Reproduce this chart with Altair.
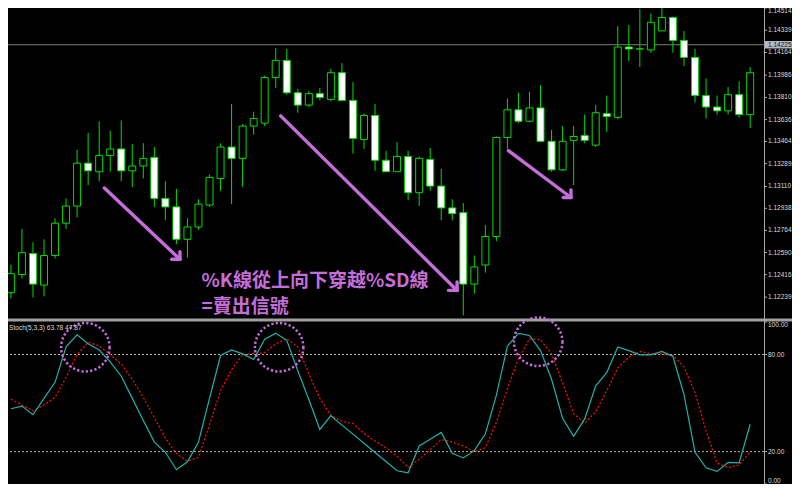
import altair as alt
import pandas as pd

# ---------------- data ----------------
bar_index = list(range(68))
open_ = [1.12274, 1.12417, 1.12582, 1.12334, 1.12567, 1.12821, 1.12956, 1.13293, 1.13226, 1.13353,
         1.13405, 1.13233, 1.13271, 1.13338, 1.13016, 1.12949, 1.12694, 1.12791, 1.12964, 1.13173,
         1.13420, 1.13331, 1.13585, 1.13608, 1.13967, 1.14102, 1.13847, 1.13750, 1.13840, 1.13795,
         1.14005, 1.13787, 1.13480, 1.13668, 1.13316, 1.13226, 1.13346, 1.13061, 1.13323, 1.13113,
         1.12941, 1.12904, 1.12342, 1.12492, 1.12716, 1.13495, 1.13713, 1.13623, 1.13728, 1.13465,
         1.13241, 1.13473, 1.13510, 1.13435, 1.13683, 1.13653, 1.14207, 1.14192, 1.14184, 1.14334,
         1.14439, 1.14259, 1.14125, 1.13825, 1.13735, 1.13705, 1.13832, 1.13675]
high = [1.12492, 1.12776, 1.12671, 1.12694, 1.12859, 1.13016, 1.13398, 1.13533, 1.13623, 1.13548,
        1.13630, 1.13443, 1.13450, 1.13420, 1.13151, 1.13091, 1.12859, 1.13009, 1.13203, 1.13450,
        1.13758, 1.13600, 1.13698, 1.13982, 1.14199, 1.14192, 1.13877, 1.13862, 1.13885, 1.14035,
        1.14080, 1.13930, 1.13683, 1.13758, 1.13391, 1.13458, 1.13391, 1.13346, 1.13413, 1.13248,
        1.13009, 1.12979, 1.12567, 1.12806, 1.13503, 1.13802, 1.13847, 1.13855, 1.13907, 1.13555,
        1.13585, 1.13585, 1.13675, 1.13750, 1.13825, 1.14372, 1.14379, 1.14507, 1.14469, 1.14536,
        1.14447, 1.14334, 1.14192, 1.13960, 1.13825, 1.13892, 1.13937, 1.14050]
low = [1.12230, 1.12387, 1.12237, 1.12245, 1.12544, 1.12776, 1.12866, 1.13121, 1.13151, 1.13226,
       1.13151, 1.13106, 1.13173, 1.12949, 1.12844, 1.12656, 1.12552, 1.12769, 1.12949, 1.13076,
       1.12971, 1.13106, 1.13518, 1.13585, 1.13885, 1.13832, 1.13690, 1.13735, 1.13787, 1.13780,
       1.13780, 1.13368, 1.13405, 1.13233, 1.13226, 1.13226, 1.13001, 1.12956, 1.13076, 1.12844,
       1.12844, 1.12095, 1.12267, 1.12432, 1.12679, 1.13405, 1.13608, 1.13615, 1.13458, 1.13226,
       1.13233, 1.13121, 1.13450, 1.13420, 1.13540, 1.13638, 1.14095, 1.14050, 1.14162, 1.14334,
       1.14162, 1.14057, 1.13772, 1.13645, 1.13675, 1.13675, 1.13653, 1.13570]
close = [1.12424, 1.12589, 1.12342, 1.12567, 1.12821, 1.12956, 1.13293, 1.13233, 1.13353, 1.13405,
         1.13233, 1.13271, 1.13331, 1.13016, 1.12949, 1.12694, 1.12791, 1.12971, 1.13181, 1.13420,
         1.13331, 1.13585, 1.13645, 1.13967, 1.14102, 1.13847, 1.13750, 1.13840, 1.13810, 1.14005,
         1.13787, 1.13488, 1.13668, 1.13316, 1.13226, 1.13346, 1.13061, 1.13331, 1.13113, 1.12941,
         1.12896, 1.12342, 1.12477, 1.12716, 1.13495, 1.13713, 1.13623, 1.13728, 1.13465, 1.13241,
         1.13465, 1.13503, 1.13473, 1.13690, 1.13660, 1.14207, 1.14192, 1.14192, 1.14402, 1.14439,
         1.14259, 1.14125, 1.13825, 1.13735, 1.13705, 1.13832, 1.13675, 1.14005]

stoch_k = [46.5, 48.1, 42.8, 52.9, 62.8, 84.7, 92.2, 86.6, 82.8, 75.5,
           66.6, 52.9, 39.2, 25.9, 19.6, 8.8, 13.7, 25.9, 52.9, 79.4,
           82.8, 80.4, 76.9, 89.4, 93.1, 88.8, 70.0, 52.2, 33.7, 42.2,
           36.4, 30.8, 25.2, 19.5, 13.9, 8.2, 6.9, 23.5, 27.6, 31.9,
           19.0, 16.1, 20.6, 31.0, 54.9, 85.3, 93.1, 91.8, 82.4, 64.7,
           40.6, 29.4, 40.2, 60.6, 68.8, 84.7, 82.4, 79.8, 79.8, 81.9,
           78.8, 55.3, 19.6, 10.0, 7.8, 13.4, 13.1, 36.9]
stoch_d = [52.4, 48.8, 45.3, 48.8, 53.5, 65.9, 80.0, 87.6, 85.3, 80.0,
           74.1, 64.7, 53.5, 41.2, 28.2, 18.8, 14.1, 16.5, 36.5, 57.6,
           70.6, 80.0, 80.6, 81.2, 86.6, 89.8, 84.7, 68.2, 52.9, 42.4,
           38.8, 37.4, 31.2, 26.5, 22.4, 17.1, 10.2, 15.3, 21.2, 27.4,
           25.9, 23.5, 20.0, 22.4, 38.2, 58.8, 77.6, 89.7, 89.2, 80.4,
           62.4, 43.5, 37.6, 44.7, 57.6, 71.8, 78.4, 81.9, 80.4, 80.4,
           79.4, 72.4, 56.5, 32.9, 12.9, 10.2, 11.8, 20.0]

price_ticks = [1.14514, 1.14339, 1.14164, 1.13986, 1.13810, 1.13636, 1.13464,
               1.13289, 1.13110, 1.12938, 1.12764, 1.12590, 1.12416, 1.12239]
stoch_ticks = [0, 20, 80, 100]
stoch_levels = [20, 80]
current_price = [1.14225]

# annotation arrows (bar index / price): shaft + two head strokes
arrow_i0 = [8.47, 14.57, 15.32, 24.45, 39.66, 40.44, 45.09, 50.06, 50.76]
arrow_p0 = [1.13098, 1.12537, 1.12597, 1.13665, 1.12292, 1.12359, 1.13391, 1.13023, 1.13083]
arrow_i1 = [15.32, 15.32, 15.32, 40.44, 40.44, 40.44, 50.76, 50.76, 50.76]
arrow_p1 = [1.12537, 1.12537, 1.12537, 1.12292, 1.12292, 1.12292, 1.13023, 1.13023, 1.13023]

note_lines = ["%K線從上向下穿越%SD線", "=賣出信號"]
note_i = [17.28, 17.28]
note_p = [1.12365, 1.12162]

circle_i = [6.75, 24.31, 47.79]
circle_v = [84.5, 84.5, 87.9]

stoch_title = "Stoch(5,3,3) 63.78 47.87"

# ---------------- frames ----------------
candles = pd.DataFrame({"i": bar_index, "open": open_, "high": high, "low": low, "close": close})
candles["lo"] = candles[["open", "close"]].min(axis=1)
candles["hi"] = candles[["open", "close"]].max(axis=1)
stoch = pd.DataFrame({"i": bar_index, "k": stoch_k, "d": stoch_d})
arrows = pd.DataFrame({"i0": arrow_i0, "p0": arrow_p0, "i1": arrow_i1, "p1": arrow_p1})
notes = pd.DataFrame({"i": note_i, "p": note_p, "t": note_lines})
circles = pd.DataFrame({"i": circle_i, "v": circle_v})
levels = pd.DataFrame({"v": stoch_levels})
cur = pd.DataFrame({"p": current_price, "t": [f"{v:.5f}" for v in current_price]})
plabels = pd.DataFrame({"p": price_ticks, "t": [f"{v:.5f}" for v in price_ticks]})
slabels = pd.DataFrame({"v": stoch_ticks, "t": [f"{v:.2f}" for v in stoch_ticks]})

GREEN = "#00dc00"
PURPLE = "#c46ddb"
AXIS_GRAY = "#a8a8a8"
LABEL = "#dcdcdc"
W, H = 756, 476
PAD_R = 28
LFS = 6.5

xs = alt.Scale(domain=[0.19, 67.8], nice=False, zero=False)
ps = alt.Scale(domain=[1.10769, 1.14514], nice=False, zero=False)
ss = alt.Scale(domain=[0, 294.1], nice=False, zero=False)

# ---------------- price pane ----------------
cur_line = alt.Chart(cur).mark_rule(color="#7a7a7a", strokeWidth=1).encode(
    y=alt.Y("p:Q", scale=ps, axis=None))

wicks = alt.Chart(candles).mark_rule(color=GREEN, strokeWidth=1, clip=True).encode(
    x=alt.X("i:Q", scale=xs, axis=None),
    y=alt.Y("low:Q", scale=ps, axis=None),
    y2="high:Q")

bodies = alt.Chart(candles).mark_bar(width=7, stroke=GREEN, strokeWidth=1, clip=True).encode(
    x=alt.X("i:Q", scale=xs, axis=None),
    y=alt.Y("lo:Q", scale=ps, axis=None),
    y2="hi:Q",
    fill=alt.condition("datum.close >= datum.open", alt.value("black"), alt.value("white")))

arrow_lines = alt.Chart(arrows).mark_rule(color=PURPLE, strokeWidth=3.4, strokeCap="round").encode(
    x=alt.X("i0:Q", scale=xs, axis=None), x2="i1:Q",
    y=alt.Y("p0:Q", scale=ps, axis=None), y2="p1:Q")

note_text = alt.Chart(notes).mark_text(align="left", baseline="middle",
                                       font="Noto Sans CJK TC", fontSize=19,
                                       fontWeight="bold", color=PURPLE).encode(
    x=alt.X("i:Q", scale=xs, axis=None),
    y=alt.Y("p:Q", scale=ps, axis=None),
    text="t:N")

# right price axis drawn from the tick values
axis_line = alt.Chart(cur).mark_rule(color=AXIS_GRAY, strokeWidth=1).encode(
    x=alt.value(W + 0.5), y=alt.value(0), y2=alt.value(H))
p_ticks = alt.Chart(plabels).mark_rule(color=AXIS_GRAY, strokeWidth=1).encode(
    x=alt.value(W), x2=alt.value(W + 3), y=alt.Y("p:Q", scale=ps, axis=None))

def p_label(values, baseline):
    return alt.Chart(plabels).transform_filter(
        alt.FieldOneOfPredicate(field="p", oneOf=values)
    ).mark_text(align="left", baseline=baseline, font="Liberation Sans",
                fontSize=LFS, color=LABEL).encode(
        x=alt.value(W + 4), y=alt.Y("p:Q", scale=ps, axis=None), text="t:N")

cur_box = alt.Chart(cur).mark_point(shape="M-1,-0.25L1,-0.25L1,0.25L-1,0.25Z", filled=True,
                                    size=900, opacity=1, color="#b4bac4", strokeWidth=0).encode(
    x=alt.value(W + 16),
    y=alt.Y("p:Q", scale=ps, axis=None))
cur_text = alt.Chart(cur).mark_text(align="left", baseline="middle", font="Liberation Sans",
                                    fontSize=LFS, color="#101010").encode(
    x=alt.value(W + 4),
    y=alt.Y("p:Q", scale=ps, axis=None),
    text="t:N")

separator = alt.Chart(cur).mark_rule(color="#a0a0a0", strokeWidth=3).encode(
    x=alt.value(0), x2=alt.value(W + PAD_R), y=alt.value(312))

price_layer = alt.layer(cur_line, wicks, bodies, arrow_lines, note_text, separator,
                        axis_line, p_ticks, p_label(price_ticks[:1], "top"),
                        p_label(price_ticks[1:], "middle"), cur_box, cur_text)

# ---------------- stochastic pane ----------------
level_rules = alt.Chart(levels).mark_rule(color="#b4b4b4", strokeWidth=1, strokeDash=[2, 2]).encode(
    y=alt.Y("v:Q", scale=ss, axis=None))

s_ticks = alt.Chart(slabels).mark_rule(color=AXIS_GRAY, strokeWidth=1).encode(
    x=alt.value(W), x2=alt.value(W + 3), y=alt.Y("v:Q", scale=ss, axis=None))

def s_label(values, baseline):
    return alt.Chart(slabels).transform_filter(
        alt.FieldOneOfPredicate(field="v", oneOf=values)
    ).mark_text(align="left", baseline=baseline, font="Liberation Sans",
                fontSize=LFS, color=LABEL).encode(
        x=alt.value(W + 4), y=alt.Y("v:Q", scale=ss, axis=None), text="t:N")

d_line = alt.Chart(stoch).mark_line(color="#ff1010", strokeWidth=1.2, strokeDash=[2, 2], clip=True).encode(
    x=alt.X("i:Q", scale=xs, axis=None),
    y=alt.Y("d:Q", scale=ss, axis=None))

k_line = alt.Chart(stoch).mark_line(color="#20b2aa", strokeWidth=1.2, clip=True).encode(
    x=alt.X("i:Q", scale=xs, axis=None),
    y=alt.Y("k:Q", scale=ss, axis=None))

circ = alt.Chart(circles).mark_point(shape="circle", filled=False, size=2350, color=PURPLE,
                                     strokeWidth=2.5, strokeDash=[2.2, 2.2], opacity=1).encode(
    x=alt.X("i:Q", scale=xs, axis=None),
    y=alt.Y("v:Q", scale=ss, axis=None))

title_text = alt.Chart(pd.DataFrame({"t": [stoch_title]})).mark_text(
    align="left", baseline="middle", font="Liberation Sans", fontSize=6.6, color=LABEL).encode(
    x=alt.value(1), y=alt.value(320), text="t:N")

stoch_layer = alt.layer(level_rules, s_ticks, s_label([100], "top"), s_label([20, 80], "middle"),
                        s_label([0], "bottom"), d_line, k_line, circ, title_text)

chart = alt.layer(price_layer, stoch_layer).resolve_scale(y="independent").properties(
    width=W, height=H,
    padding={"left": 0, "top": 0, "right": PAD_R, "bottom": 0},
    autosize=alt.AutoSizeParams(type="none"),
    background="black",
).configure_view(stroke=None, fill="black")

chart.save("out.html", embed_options={"renderer": "svg", "actions": False})
